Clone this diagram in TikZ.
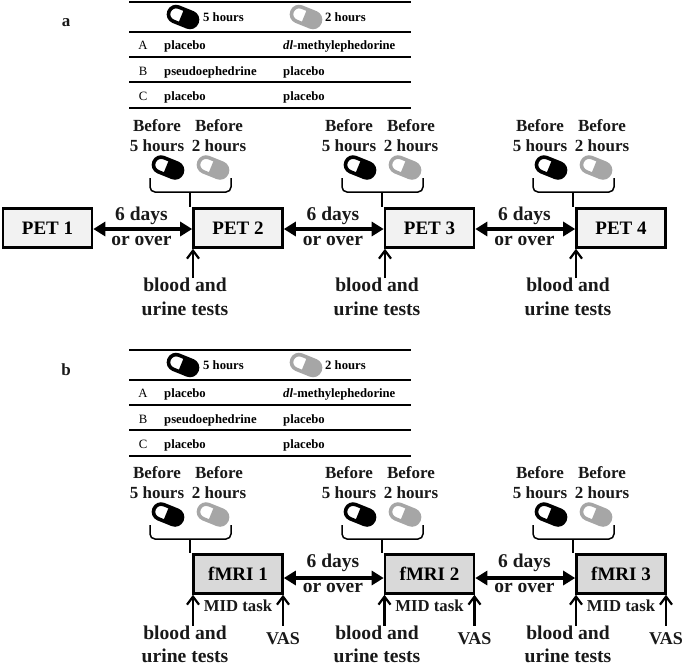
\documentclass[tikz,border=0pt]{standalone}
\usepackage{fontspec}
\setmainfont{Liberation Serif}
\usetikzlibrary{arrows.meta}
\tikzset{
  tx/.style={font=\fontsize{#1}{#1}\selectfont\bfseries, inner sep=0pt, text=black!90},
  rowtx/.style={font=\fontsize{12.7}{12.7}\selectfont\bfseries, inner sep=0pt, anchor=base west},
  lettertx/.style={font=\fontsize{12.7}{12.7}\selectfont, inner sep=0pt, anchor=base},
  rule/.style={line width=1.1pt},
  box/.style={draw, line width=2.6pt, minimum width=89pt, minimum height=39pt, inner sep=0pt, font=\fontsize{19}{19}\selectfont\bfseries},
  petbox/.style={box, fill=black!5},
  mribox/.style={box, fill=black!15},
  gap/.style={line width=3.2pt, {Triangle[length=12pt,width=14pt]}-{Triangle[length=12pt,width=14pt]}},
  up/.style={line width=2.2pt, -{Straight Barb[length=8pt,width=12pt]}},
  brace/.style={line width=1.5pt, rounded corners=5pt},
  pics/pill/.style={code={
    \begin{scope}[rotate=-22]
      \fill[white] (-16,-8) rectangle (16,8);
      \begin{scope}
        \clip[rounded corners=7.4pt] (-15,-7.6) rectangle (15,7.6);
        \fill[#1] (-2,-9) rectangle (17,9);
      \end{scope}
      \draw[#1, line width=3.6pt, rounded corners=7.4pt] (-15,-7.6) rectangle (15,7.6);
    \end{scope}
  }}
}
\definecolor{pillgrey}{HTML}{A6A6A6}
\newcommand{\drugtable}[2]{%
  \foreach \yy in {0,30,55,80,106} \draw[rule] (129,#1+\yy) -- (411,#1+\yy);
  \pic at (183,#1+15) {pill=black};
  \pic at (306,#1+15) {pill=pillgrey};
  \node[rowtx] (#2h5) at (203,#1+19) {5 hours};
  \node[rowtx] (#2h2) at (325,#1+19) {2 hours};
  \node[lettertx] (#2la) at (143,#1+47) {A};
  \node[lettertx] (#2lb) at (143,#1+73) {B};
  \node[lettertx] (#2lc) at (143,#1+98) {C};
  \node[rowtx] (#2a1) at (164,#1+47) {placebo};
  \node[rowtx] (#2b1) at (164,#1+73) {pseudoephedrine};
  \node[rowtx] (#2c1) at (164,#1+98) {placebo};
  \node[rowtx] (#2a2) at (283,#1+47) {\textit{dl}-methylephedorine};
  \node[rowtx] (#2b2) at (283,#1+73) {placebo};
  \node[rowtx] (#2c2) at (283,#1+98) {placebo};
}
\newcommand{\dosegroup}[3]{%
  \node[tx=17] (#3ba) at (#1-36,#2) {Before};
  \node[tx=17] (#3bb) at (#1+26,#2) {Before};
  \node[tx=17] (#3ha) at (#1-36,#2+20) {5 hours};
  \node[tx=17] (#3hb) at (#1+26,#2+20) {2 hours};
  \pic at (#1-25,#2+41.5) {pill=black};
  \pic at (#1+20,#2+41.5) {pill=pillgrey};
  \draw[brace] (#1-43,#2+52) -- (#1-43,#2+66) -- (#1+38,#2+66) -- (#1+38,#2+52);
  \draw[line width=1.5pt] (#1-3,#2+66) -- (#3.north -| #1-3,0);
}
\newcommand{\tests}[3]{%
  \node[tx=19.6] (#3a) at (#1-8,#2) {blood and};
  \node[tx=19.6] (#3b) at (#1-8,#2+23.5) {urine tests};
}
\begin{document}
\begin{tikzpicture}[x=1pt,y=-1pt]
\useasboundingbox (0,0) rectangle (685,665);
\node[tx=17] (la) at (66,23) {a};
\drugtable{2}{ta}
\node[petbox] (p1) at (47.5,228) {PET 1};
\node[petbox] (p2) at (238,228) {PET 2};
\node[petbox] (p3) at (429.5,228) {PET 3};
\node[petbox] (p4) at (621,228) {PET 4};
\dosegroup{193}{126}{p2}
\dosegroup{385}{126}{p3}
\dosegroup{576}{126}{p4}
\foreach \a/\b/\x in {p1/p2/142.5,p2/p3/334,p3/p4/525.5}{
  \draw[gap] ([yshift=-1pt]\a.east) -- ([yshift=-1pt]\b.west);
  \node[tx=19.5] at (\x-1,216) {6 days};
  \node[tx=19.5] at (\x-1,241) {or over};
}
\tests{193}{285}{ta1}
\tests{385}{285}{ta2}
\tests{576}{285}{ta3}
\coordinate (ua1) at (193,278); \coordinate (ua2) at (385,278); \coordinate (ua3) at (576,278);
\draw[up] (ua1) -- (p2.south -| ua1);
\draw[up] (ua2) -- (p3.south -| ua2);
\draw[up] (ua3) -- (p4.south -| ua3);
\node[tx=17] (lb) at (66,370) {b};
\drugtable{350}{tb}
\node[mribox] (m1) at (238,574) {fMRI 1};
\node[mribox] (m2) at (429.5,574) {fMRI 2};
\node[mribox] (m3) at (621,574) {fMRI 3};
\dosegroup{193}{473}{m1}
\dosegroup{385}{473}{m2}
\dosegroup{576}{473}{m3}
\foreach \a/\b/\x in {m1/m2/334,m2/m3/525.5}{
  \draw[gap] ([yshift=-4pt]\a.east) -- ([yshift=-4pt]\b.west);
  \node[tx=19.5] at (\x-1,563) {6 days};
  \node[tx=19.5] at (\x-1,588) {or over};
}
\foreach \b/\n in {m1/1,m2/2,m3/3}{
  \node[tx=16.7] (mid\n) at ([yshift=-11pt]\b.south) {MID task};
  \coordinate (ul\n) at ([xshift=-45pt,yshift=-31pt]\b.south);
  \coordinate (ur\n) at ([xshift=45pt,yshift=-31pt]\b.south);
  \draw[up] (ul\n) -- ([xshift=-45pt]\b.south);
  \draw[up] (ur\n) -- ([xshift=45pt]\b.south);
  \node[tx=18] (vas\n) at ([xshift=45pt,yshift=-44pt]\b.south) {VAS};
}
\tests{193}{632.5}{tb1}
\tests{385}{632.5}{tb2}
\tests{576}{632.5}{tb3}
\end{tikzpicture}
\end{document}
